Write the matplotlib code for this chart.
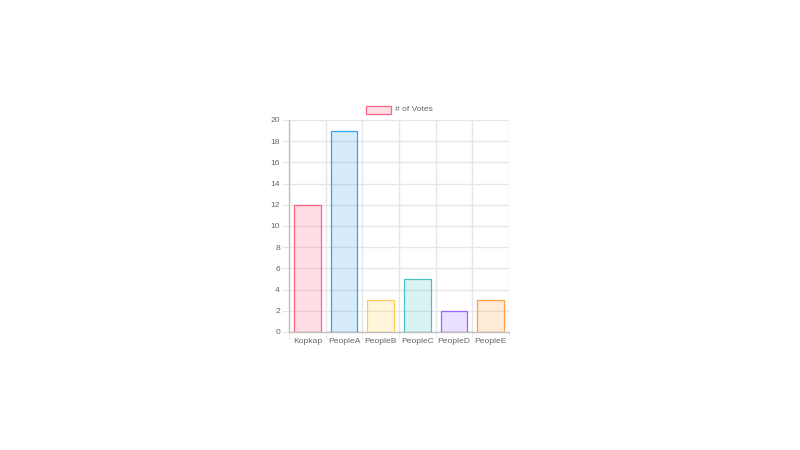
import matplotlib
matplotlib.use("Agg")
import matplotlib.pyplot as plt
from matplotlib.patches import Rectangle

# data
labels = ["Kopkap", "PeopleA", "PeopleB", "PeopleC", "PeopleD", "PeopleE"]
votes = [12, 19, 3, 5, 2, 3]
base_rgb = [(255, 99, 132), (54, 162, 235), (255, 206, 86),
            (75, 192, 192), (153, 102, 255), (255, 159, 64)]
y_ticks = [0, 2, 4, 6, 8, 10, 12, 14, 16, 18, 20]

plt.rcParams['font.family'] = ['Liberation Sans', 'DejaVu Sans']
fs = 6.1

fill = [(r/255, g/255, b/255, 0.2) for r, g, b in base_rgb]
edge = [(r/255, g/255, b/255, 1.0) for r, g, b in base_rgb]

fig = plt.figure(figsize=(8, 4.5), dpi=100)
ax = fig.add_axes([289/800, 1 - 332/450, 220/800, 212/450])

x = list(range(len(labels)))
ax.bar(x, votes, width=0.72, color=fill, edgecolor=edge, linewidth=0.9, zorder=3)

ax.set_xlim(-0.5, len(labels) - 0.5)
ax.set_ylim(0, 20)
ax.set_yticks(y_ticks)
ax.set_xticks(x)
ax.set_xticklabels(labels)
ax.set_xticks([i - 0.5 for i in range(len(labels) + 1)], minor=True)

grid_c = '#e6e6e6'
ax.yaxis.grid(True, which='major', color=grid_c, linewidth=1)
ax.xaxis.grid(True, which='minor', color=grid_c, linewidth=1)
ax.xaxis.grid(False, which='major')
ax.set_axisbelow(True)

ax.tick_params(axis='y', which='major', length=5, color=grid_c,
               labelsize=fs, labelcolor='#666666', pad=1.5)
ax.tick_params(axis='x', which='major', length=0, labelsize=fs,
               labelcolor='#666666', pad=4)
ax.tick_params(axis='x', which='minor', length=5, color=grid_c)

for s in ['top', 'right']:
    ax.spines[s].set_visible(False)
for s in ['left', 'bottom']:
    ax.spines[s].set_color('#bfbfbf')
    ax.spines[s].set_linewidth(1)

# legend
fig.patches.append(Rectangle((366/800, 1 - 114/450), 25/800, 8/450,
                             transform=fig.transFigure, facecolor=fill[0],
                             edgecolor=edge[0], linewidth=0.9))
fig.text(395/800, 1 - 109.5/450, "# of Votes", fontsize=fs, color='#666666',
         va='center', ha='left')

fig.savefig("out.png", dpi=100, facecolor='white')
